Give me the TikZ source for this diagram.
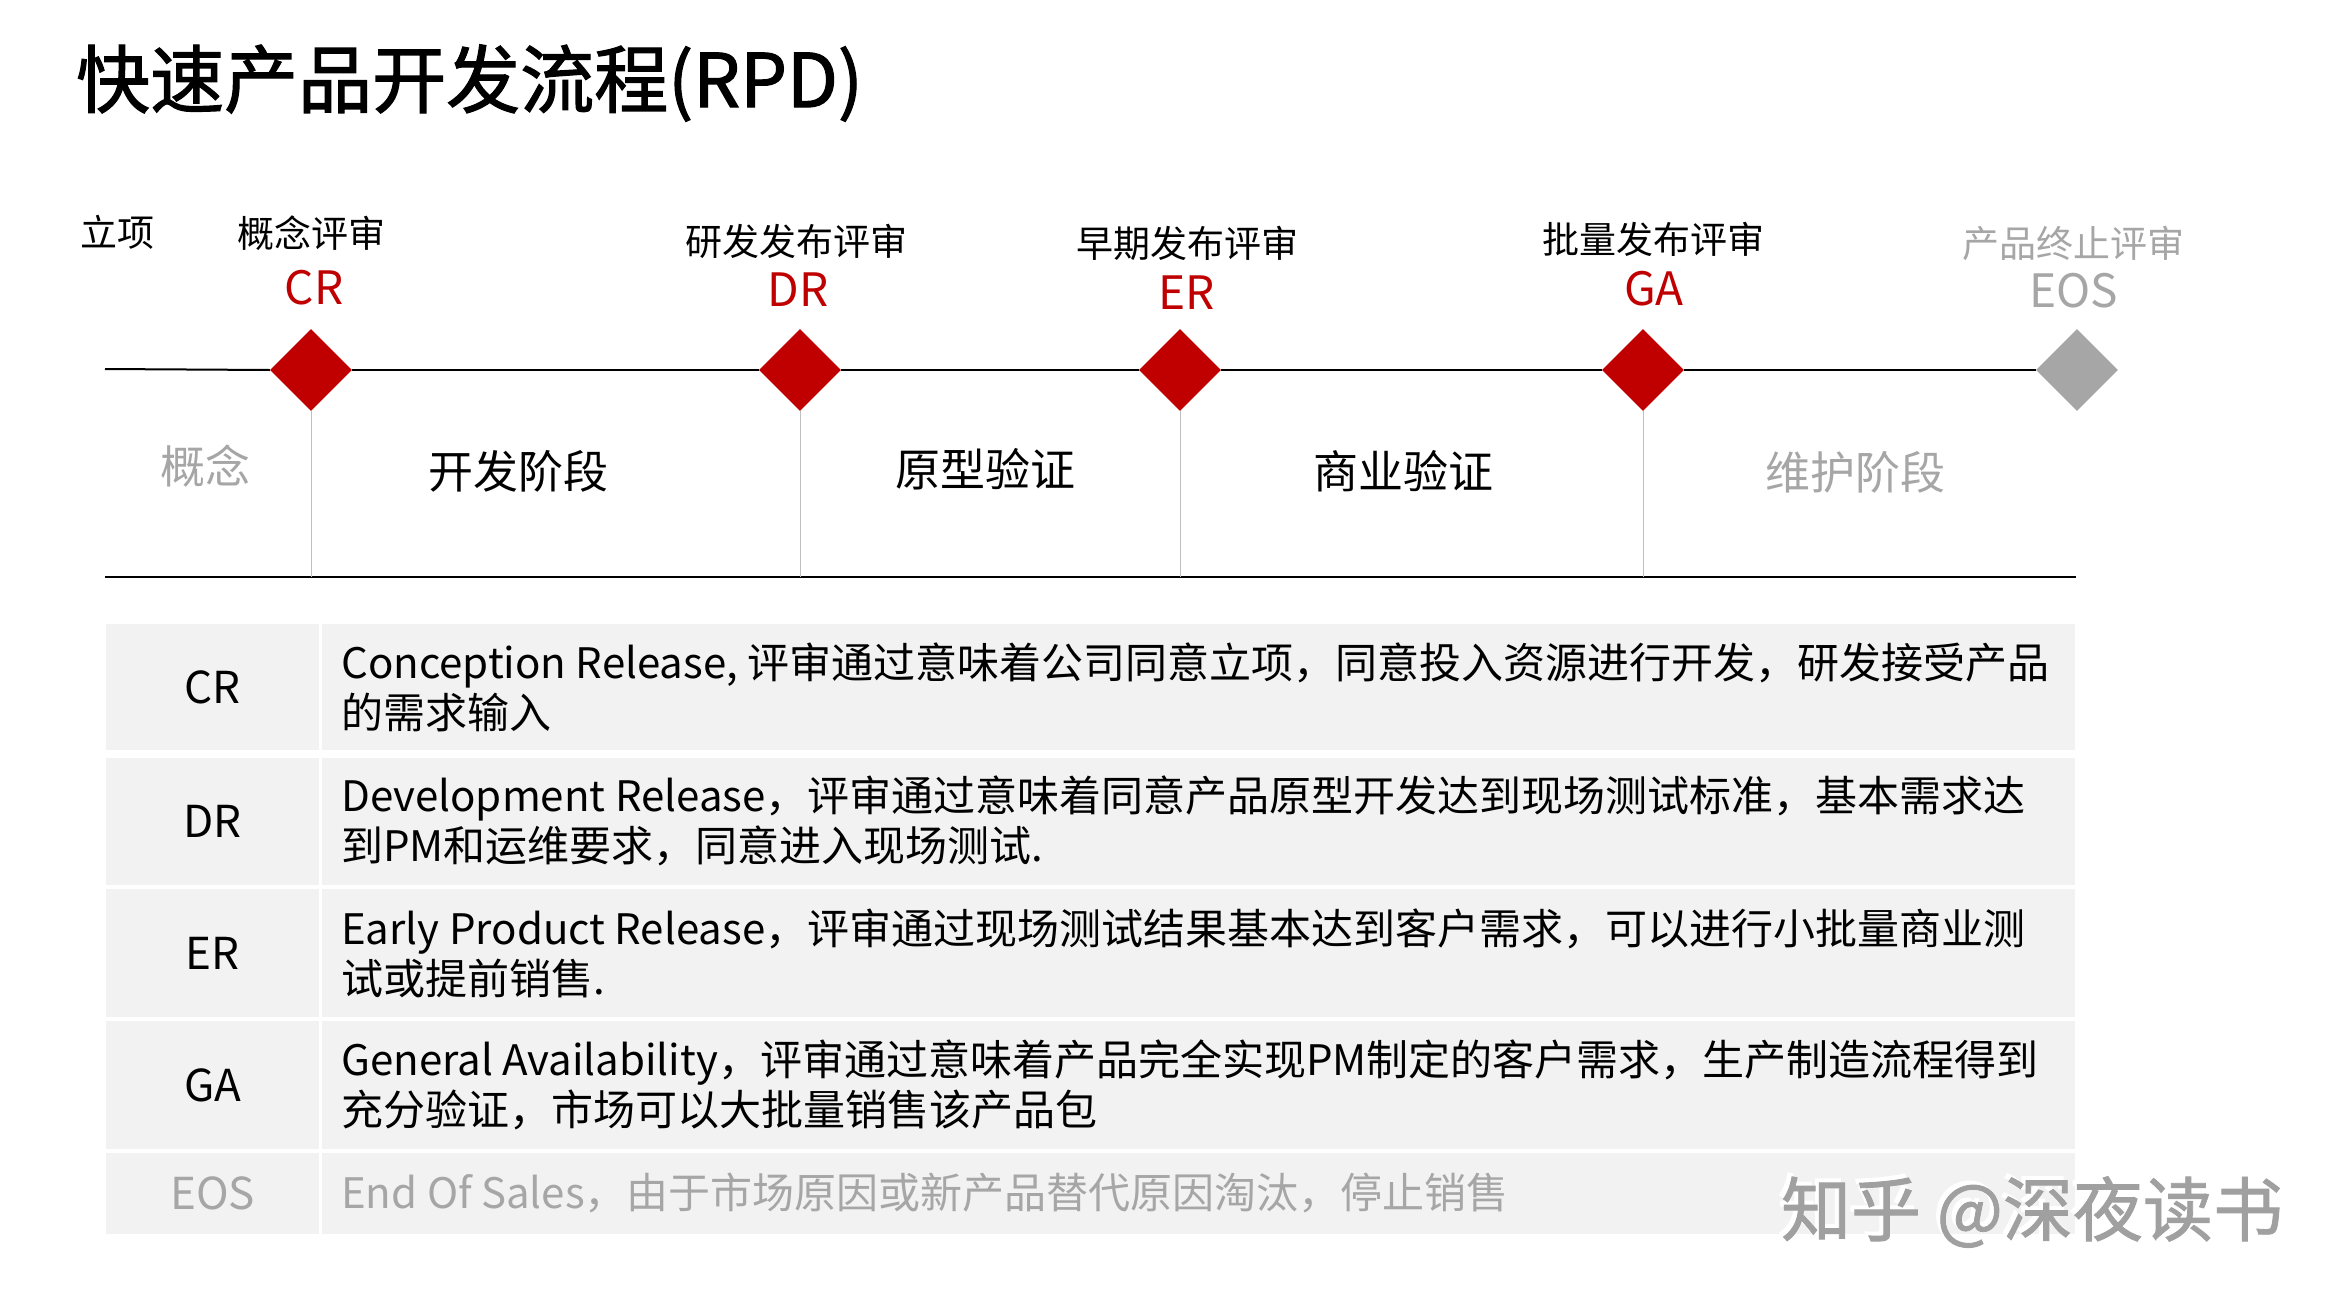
\documentclass[tikz,border=0pt]{standalone}
\usepackage{fontspec}
\setmainfont{Noto Sans CJK SC}
\newfontfamily\rpdtitlefont{Noto Sans CJK SC}[FakeBold=1.6]
\newfontfamily\rpdwmfont{Noto Sans CJK SC}[FakeBold=1.2]
\usetikzlibrary{shapes.geometric}
\definecolor{rpdred}{RGB}{192,0,0}
\definecolor{rpdgray}{RGB}{166,166,166}
\definecolor{wmgray}{RGB}{160,160,160}
\definecolor{rowfill}{RGB}{242,242,242}
\definecolor{thinline}{RGB}{191,191,191}
\tikzset{
  lbl/.style={inner sep=0pt, font=\fontsize{37}{44}\selectfont},
  codelbl/.style={inner sep=0pt, text=rpdred, font=\fontsize{46}{54}\selectfont},
  phase/.style={inner sep=0pt, font=\fontsize{45}{54}\selectfont},
  gate/.style={diamond, aspect=1, fill=rpdred, minimum width=82pt, minimum height=82pt, inner sep=0pt},
  mainline/.style={line width=2pt, black},
  divline/.style={line width=1pt, thinline},
  rowbox/.style={fill=rowfill},
  tabkey/.style={inner sep=0pt, font=\fontsize{44}{52}\selectfont},
  tabtext/.style={inner sep=0pt, anchor=west, align=left, font=\fontsize{42}{50}\selectfont},
  faded/.style={text=rpdgray},
  wmark/.style={inner sep=0pt, font=\rpdwmfont\fontsize{70}{80}\selectfont},
}
\begin{document}
\begin{tikzpicture}[x=1pt, y=-1pt]
\useasboundingbox (0,0) rectangle (2346,1304);
\fill[white] (0,0) rectangle (2346,1304);

% title
\node[anchor=base west, inner sep=0pt, font=\rpdtitlefont\fontsize{74}{84}\selectfont] (title) at (76,107) {快速产品开发流程(RPD)};

% milestone labels
\node[lbl] (lx) at (117,232) {立项};
\node[lbl] (lcr) at (311,233) {概念评审};
\node[codelbl] (ccr) at (314,288) {CR};
\node[lbl] (ldr) at (796,241) {研发发布评审};
\node[codelbl] (cdr) at (798,290) {DR};
\node[lbl] (ler) at (1187,243) {早期发布评审};
\node[codelbl] (cer) at (1187,293) {ER};
\node[lbl] (lga) at (1653,239) {批量发布评审};
\node[codelbl] (cga) at (1654,289) {GA};
\node[lbl, faded] (leos) at (2073,243) {产品终止评审};
\node[codelbl, faded] (ceos) at (2074,291) {EOS};

% gates
\node[gate] (gcr) at (311,370) {};
\node[gate] (gdr) at (800,370) {};
\node[gate] (ger) at (1180,370) {};
\node[gate] (gga) at (1643,370) {};
\node[gate, fill=rpdgray] (geos) at (2077,370) {};

\coordinate (tl) at (105,369);
\coordinate (bl) at (105,577);
\coordinate (br) at (2076,577);

\draw[mainline] (tl) -- (gcr.west);
\draw[mainline] (gcr.east) -- (gdr.west);
\draw[mainline] (gdr.east) -- (ger.west);
\draw[mainline] (ger.east) -- (gga.west);
\draw[mainline] (gga.east) -- (geos.west);
\draw[mainline] (bl) -- (br);

\draw[divline] (gcr.south) -- (gcr.south |- bl);
\draw[divline] (gdr.south) -- (gdr.south |- bl);
\draw[divline] (ger.south) -- (ger.south |- bl);
\draw[divline] (gga.south) -- (gga.south |- bl);

% phases
\node[phase, faded] (pcon) at (205,466) {概念};
\node[phase] (pdev) at (518,471) {开发阶段};
\node[phase] (pproto) at (985,469) {原型验证};
\node[phase] (pbiz) at (1403,471) {商业验证};
\node[phase, faded] (pmaint) at (1855,472) {维护阶段};

% table rows
\fill[rowbox] (106,624) rectangle (319,750);
\fill[rowbox] (322,624) rectangle (2075,750);
\fill[rowbox] (106,758) rectangle (319,885);
\fill[rowbox] (322,758) rectangle (2075,885);
\fill[rowbox] (106,889) rectangle (319,1017);
\fill[rowbox] (322,889) rectangle (2075,1017);
\fill[rowbox] (106,1021) rectangle (319,1149);
\fill[rowbox] (322,1021) rectangle (2075,1149);
\fill[rowbox] (106,1153) rectangle (319,1234);
\fill[rowbox] (322,1153) rectangle (2075,1234);

\node[tabkey] (kcr) at (212.5,687) {CR};
\node[tabkey] (kdr) at (212.5,821) {DR};
\node[tabkey] (ker) at (212.5,953) {ER};
\node[tabkey] (kga) at (212.5,1085) {GA};
\node[tabkey, faded] (keos) at (212.5,1193) {EOS};

\node[tabtext] (tcr) at (341,687) {Conception Release, 评审通过意味着公司同意立项，同意投入资源进行开发，研发接受产品\\的需求输入};
\node[tabtext] (tdr) at (341,821) {Development Release，评审通过意味着同意产品原型开发达到现场测试标准，基本需求达\\到PM和运维要求，同意进入现场测试.};
\node[tabtext] (ter) at (341,953) {Early Product Release，评审通过现场测试结果基本达到客户需求，可以进行小批量商业测\\试或提前销售.};
\node[tabtext] (tga) at (341,1085) {General Availability，评审通过意味着产品完全实现PM制定的客户需求，生产制造流程得到\\充分验证，市场可以大批量销售该产品包};
\node[tabtext, faded] (teos) at (341,1193) {End Of Sales，由于市场原因或新产品替代原因淘汰，停止销售};

% watermark: grey text with a white highlight offset to the upper left
\node[wmark] (wm) at (2032,1210) {\rlap{\kern-4pt\raisebox{4pt}{\color{white}知乎 @深夜读书}}\textcolor{wmgray}{知乎 @深夜读书}};
\end{tikzpicture}
\end{document}
